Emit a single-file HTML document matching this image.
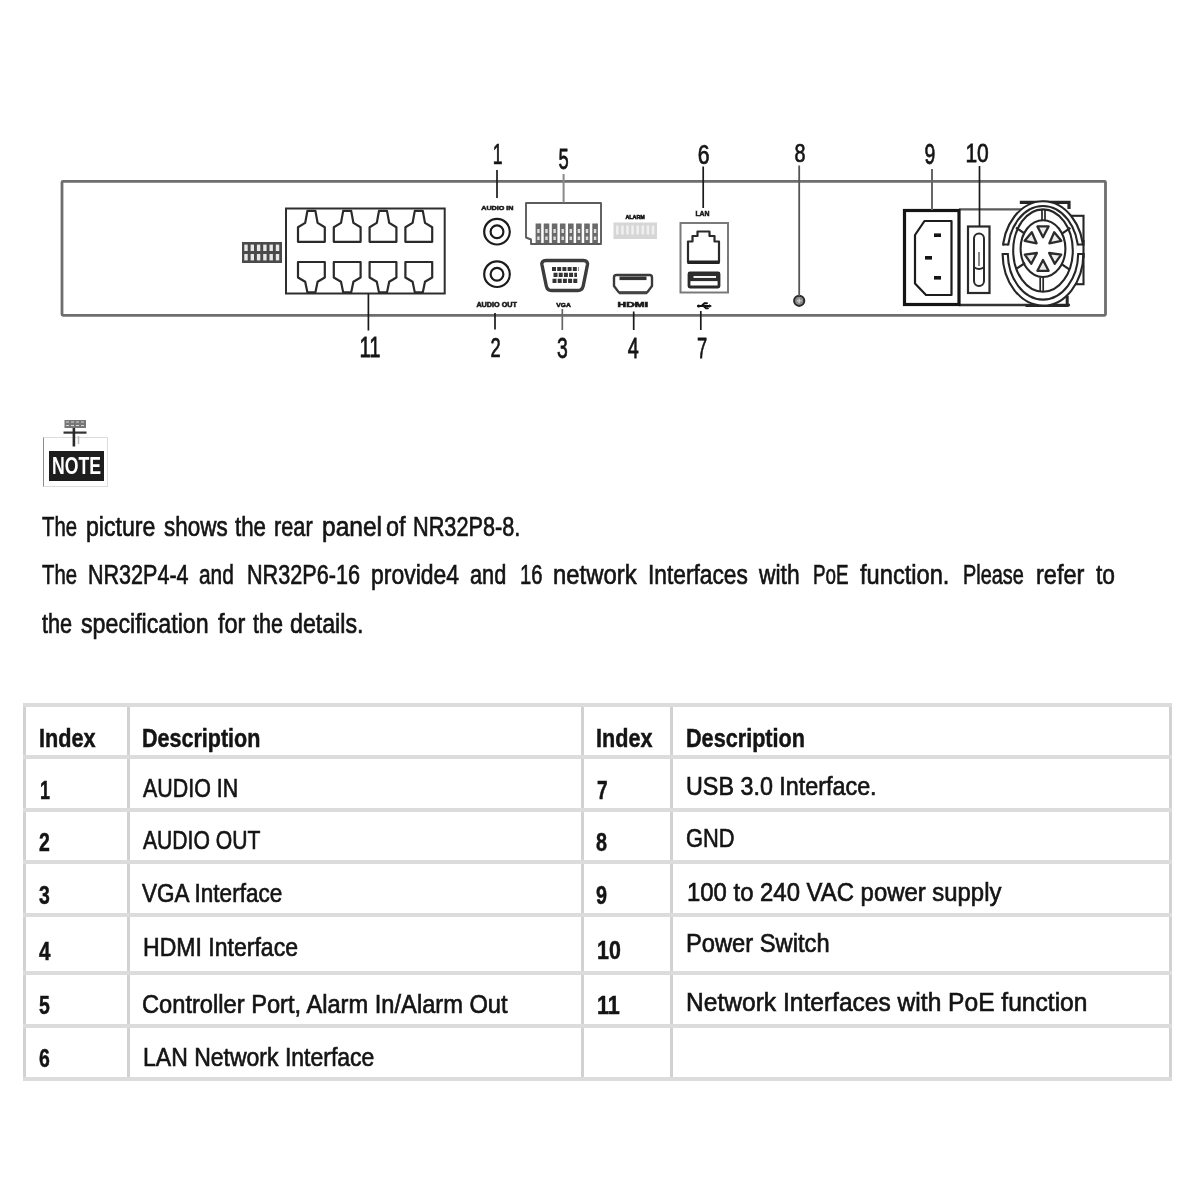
<!DOCTYPE html>
<html lang="en">
<head>
<meta charset="utf-8">
<title>NVR rear panel</title>
<style>
html,body{margin:0;padding:0;background:#fff;}
body{width:1200px;height:1200px;overflow:hidden;}
#page{position:relative;width:1200px;height:1200px;overflow:hidden;background:#fff;
  font-family:"Liberation Sans",sans-serif;color:#141414;filter:grayscale(1);}
svg.diagram{position:absolute;left:0;top:0;width:1200px;height:400px;font-family:"Liberation Sans",sans-serif;}
.t{position:absolute;white-space:nowrap;line-height:1;transform-origin:0 0;display:block;font-weight:400;
  -webkit-text-stroke:0.65px #141414;}
.t.b{font-weight:700;-webkit-text-stroke:0.5px #161616;}
p.para{margin:0;}
.note{position:absolute;left:43px;top:437px;width:64.5px;height:49.5px;border:1.5px solid #dcdcdc;border-left-color:#8d8d8d;box-sizing:border-box;}
.note .blk{position:absolute;left:5.2px;top:13px;width:54.6px;height:29.6px;background:#1d1d1d;}
.notetxt{position:absolute;color:#fff;font-weight:700;white-space:nowrap;line-height:1;transform-origin:0 0;}
.pin{position:absolute;}
table.idx{margin:703.1px 0 0 23.1px;border-collapse:collapse;table-layout:fixed;border-spacing:0;
  width:1146.0px;}
table.idx th,table.idx td{border-style:solid;border-color:#dcdcdc #d2d2d2;border-width:4px 3px;padding:0;}
</style>
</head>
<body>
<div id="page">
<svg class="diagram" viewBox="0 0 1200 400">
<rect x="62" y="181.3" width="1043.5" height="134" rx="1" fill="none" stroke="#6e6e6e" stroke-width="2.8"/>
<g><rect x="242" y="242" width="40" height="21" fill="#4a4a4a"/>
<rect x="244.3" y="244.6" width="3.4" height="6.4" fill="#e8e8e8"/>
<rect x="250.6" y="244.6" width="3.4" height="6.4" fill="#e8e8e8"/>
<rect x="256.9" y="244.6" width="3.4" height="6.4" fill="#e8e8e8"/>
<rect x="263.2" y="244.6" width="3.4" height="6.4" fill="#e8e8e8"/>
<rect x="269.5" y="244.6" width="3.4" height="6.4" fill="#e8e8e8"/>
<rect x="275.8" y="244.6" width="3.4" height="6.4" fill="#e8e8e8"/>
<rect x="244.3" y="254.0" width="3.4" height="6.4" fill="#e8e8e8"/>
<rect x="250.6" y="254.0" width="3.4" height="6.4" fill="#e8e8e8"/>
<rect x="256.9" y="254.0" width="3.4" height="6.4" fill="#e8e8e8"/>
<rect x="263.2" y="254.0" width="3.4" height="6.4" fill="#e8e8e8"/>
<rect x="269.5" y="254.0" width="3.4" height="6.4" fill="#e8e8e8"/>
<rect x="275.8" y="254.0" width="3.4" height="6.4" fill="#e8e8e8"/>
</g>
<rect x="286" y="208.5" width="158.7" height="85" fill="none" stroke="#2e2e2e" stroke-width="2"/>
<polygon points="298.0,241.8 298.0,227.3 305.2,222.9 307.4,210.9 315.4,210.9 317.6,222.9 324.8,227.3 324.8,241.8" fill="none" stroke="#2a2a2a" stroke-width="2.2" stroke-linejoin="round"/>
<polygon points="298.0,262.0 298.0,277.5 305.2,281.8 307.4,292.4 315.4,292.4 317.6,281.8 324.8,277.5 324.8,262.0" fill="none" stroke="#2a2a2a" stroke-width="2.2" stroke-linejoin="round"/>
<polygon points="333.8,241.8 333.8,227.3 341.0,222.9 343.2,210.9 351.2,210.9 353.4,222.9 360.6,227.3 360.6,241.8" fill="none" stroke="#2a2a2a" stroke-width="2.2" stroke-linejoin="round"/>
<polygon points="333.8,262.0 333.8,277.5 341.0,281.8 343.2,292.4 351.2,292.4 353.4,281.8 360.6,277.5 360.6,262.0" fill="none" stroke="#2a2a2a" stroke-width="2.2" stroke-linejoin="round"/>
<polygon points="369.6,241.8 369.6,227.3 376.8,222.9 379.0,210.9 387.0,210.9 389.2,222.9 396.4,227.3 396.4,241.8" fill="none" stroke="#2a2a2a" stroke-width="2.2" stroke-linejoin="round"/>
<polygon points="369.6,262.0 369.6,277.5 376.8,281.8 379.0,292.4 387.0,292.4 389.2,281.8 396.4,277.5 396.4,262.0" fill="none" stroke="#2a2a2a" stroke-width="2.2" stroke-linejoin="round"/>
<polygon points="405.4,241.8 405.4,227.3 412.6,222.9 414.8,210.9 422.8,210.9 425.0,222.9 432.2,227.3 432.2,241.8" fill="none" stroke="#2a2a2a" stroke-width="2.2" stroke-linejoin="round"/>
<polygon points="405.4,262.0 405.4,277.5 412.6,281.8 414.8,292.4 422.8,292.4 425.0,281.8 432.2,277.5 432.2,262.0" fill="none" stroke="#2a2a2a" stroke-width="2.2" stroke-linejoin="round"/>
<circle cx="497" cy="231.7" r="12.8" fill="#fff" stroke="#1c1c1c" stroke-width="2.2"/>
<circle cx="497" cy="231.7" r="6.4" fill="#fff" stroke="#1c1c1c" stroke-width="2.2"/>
<circle cx="497" cy="274.2" r="12.8" fill="#fff" stroke="#1c1c1c" stroke-width="2.2"/>
<circle cx="497" cy="274.2" r="6.4" fill="#fff" stroke="#1c1c1c" stroke-width="2.2"/>
<path d="M526 203 H601 V244 H531 V239.5 L526 237.5 Z" fill="#fff" stroke="#5c5c5c" stroke-width="1.9" stroke-linejoin="round"/>
<rect x="535.6" y="223.5" width="5.6" height="19.5" fill="#6a6a6a"/>
<rect x="537.2" y="229" width="2.4" height="4" fill="#ddd"/>
<rect x="537.2" y="236.5" width="2.4" height="3.5" fill="#ddd"/>
<rect x="543.7" y="223.5" width="5.6" height="19.5" fill="#6a6a6a"/>
<rect x="545.3" y="229" width="2.4" height="4" fill="#ddd"/>
<rect x="545.3" y="236.5" width="2.4" height="3.5" fill="#ddd"/>
<rect x="551.8" y="223.5" width="5.6" height="19.5" fill="#6a6a6a"/>
<rect x="553.4" y="229" width="2.4" height="4" fill="#ddd"/>
<rect x="553.4" y="236.5" width="2.4" height="3.5" fill="#ddd"/>
<rect x="559.9" y="223.5" width="5.6" height="19.5" fill="#6a6a6a"/>
<rect x="561.5" y="229" width="2.4" height="4" fill="#ddd"/>
<rect x="561.5" y="236.5" width="2.4" height="3.5" fill="#ddd"/>
<rect x="568.0" y="223.5" width="5.6" height="19.5" fill="#6a6a6a"/>
<rect x="569.6" y="229" width="2.4" height="4" fill="#ddd"/>
<rect x="569.6" y="236.5" width="2.4" height="3.5" fill="#ddd"/>
<rect x="576.1" y="223.5" width="5.6" height="19.5" fill="#6a6a6a"/>
<rect x="577.7" y="229" width="2.4" height="4" fill="#ddd"/>
<rect x="577.7" y="236.5" width="2.4" height="3.5" fill="#ddd"/>
<rect x="584.2" y="223.5" width="5.6" height="19.5" fill="#6a6a6a"/>
<rect x="585.8" y="229" width="2.4" height="4" fill="#ddd"/>
<rect x="585.8" y="236.5" width="2.4" height="3.5" fill="#ddd"/>
<rect x="592.3" y="223.5" width="5.6" height="19.5" fill="#6a6a6a"/>
<rect x="593.9" y="229" width="2.4" height="4" fill="#ddd"/>
<rect x="593.9" y="236.5" width="2.4" height="3.5" fill="#ddd"/>
<rect x="613.5" y="222.5" width="43.5" height="16.5" fill="#d6d6d6"/>
<rect x="616.0" y="225.5" width="2.6" height="9" fill="#efefef"/>
<rect x="621.1" y="225.5" width="2.6" height="9" fill="#efefef"/>
<rect x="626.2" y="225.5" width="2.6" height="9" fill="#efefef"/>
<rect x="631.3" y="225.5" width="2.6" height="9" fill="#efefef"/>
<rect x="636.4" y="225.5" width="2.6" height="9" fill="#efefef"/>
<rect x="641.5" y="225.5" width="2.6" height="9" fill="#efefef"/>
<rect x="646.6" y="225.5" width="2.6" height="9" fill="#efefef"/>
<rect x="651.7" y="225.5" width="2.6" height="9" fill="#efefef"/>
<path d="M546 260.5 H583.5 Q588 260.5 587.4 265 L583.2 286 Q582.2 290.5 577.8 290.5 H551.6 Q547.2 290.5 546.3 286 L542 265 Q541.2 260.5 546 260.5 Z" fill="#fff" stroke="#3c3c3c" stroke-width="3.4" stroke-linejoin="round"/>
<line x1="552" y1="269.0" x2="578.5" y2="269.0" stroke="#333" stroke-width="4.2" stroke-dasharray="4 1.2"/>
<line x1="553.5" y1="274.9" x2="577" y2="274.9" stroke="#333" stroke-width="4.2" stroke-dasharray="4 1.2"/>
<line x1="552.5" y1="280.8" x2="578" y2="280.8" stroke="#333" stroke-width="4.2" stroke-dasharray="4 1.2"/>
<path d="M616.5 275 H649.5 Q652 275 652 277.5 V286 L647 292.6 H619 L614 286 V277.5 Q614 275 616.5 275 Z" fill="#fff" stroke="#3a3a3a" stroke-width="2.4" stroke-linejoin="round"/>
<rect x="619.5" y="276.5" width="27" height="3.6" fill="#333"/>
<path d="M619 292.8 H647" stroke="#444" stroke-width="3"/>
<rect x="680.5" y="223" width="47.5" height="69.5" fill="#fff" stroke="#7a7a7a" stroke-width="2"/>
<path d="M688 262 V241.5 H692.5 V236 H697.5 V231.5 H709.5 V236 H714.5 V241.5 H719 V262 Z" fill="#fff" stroke="#2a2a2a" stroke-width="2.2" stroke-linejoin="round"/>
<path d="M687.4 262.2 H719.6" stroke="#222" stroke-width="3.4"/>
<rect x="689" y="273" width="30" height="14" rx="1" fill="#fff" stroke="#2a2a2a" stroke-width="2.8"/>
<rect x="689.5" y="273.5" width="29" height="7.6" fill="#2e2e2e"/>
<rect x="693.5" y="276" width="22.5" height="2" fill="#f2f2f2"/>
<g stroke="#111" stroke-width="1.9" fill="none" stroke-linecap="round"><path d="M698 306 H709.5"/><path d="M701.5 306 L704.5 303.3 H707"/><path d="M703.5 306 L706 308.2 H708"/></g>
<circle cx="698.6" cy="306" r="1.5" fill="#111"/><path d="M709 304.3 L712 306 L709 307.7 Z" fill="#111"/>
<circle cx="799.2" cy="300.8" r="5.1" fill="#8a8a8a" stroke="#2a2a2a" stroke-width="2"/>
<path d="M796.8 300.8 H801.6 M799.2 298.4 V303.2" stroke="#ddd" stroke-width="1"/>
<path d="M959 209.3 H1022" stroke="#5a5a5a" stroke-width="2.2"/>
<path d="M959 305 H1070" stroke="#333" stroke-width="2.4"/>
<rect x="904.5" y="210.5" width="54.5" height="94" fill="#fff" stroke="#151515" stroke-width="3.2"/>
<path d="M924.5 221 H951.5 V295 H926 L915 283.5 V235 Z" fill="#fff" stroke="#1c1c1c" stroke-width="2.2" stroke-linejoin="round"/>
<rect x="934" y="233.4" width="7" height="3.6" fill="#151515"/>
<rect x="925" y="256" width="7" height="3.6" fill="#151515"/>
<rect x="934" y="276" width="7" height="3.6" fill="#151515"/>
<rect x="968" y="226.5" width="21.5" height="66.5" fill="#fff" stroke="#2a2a2a" stroke-width="2.2"/>
<rect x="974" y="233.5" width="10" height="52.5" rx="5" fill="#fff" stroke="#2a2a2a" stroke-width="2"/>
<path d="M974.5 267.5 Q979 270.5 983.5 267.5" stroke="#2a2a2a" stroke-width="1.8" fill="none"/>
<path d="M979 252 V266" stroke="#555" stroke-width="1.4"/>
<g fill="none" stroke="#262626" stroke-width="2.1">
<rect x="1069.5" y="215.8" width="14" height="68.4" fill="#fff"/>
<path d="M1019.8 202.4 H1069 V209" stroke-width="3.2"/>
<path d="M1025.5 305.4 H1067.2 V296" stroke-width="3"/>
<ellipse cx="1043" cy="253.4" rx="40.4" ry="52.2" fill="#fff"/>
<ellipse cx="1043" cy="252.8" rx="35.2" ry="46.8"/>
<ellipse cx="1043" cy="250.6" rx="29.8" ry="41.2"/>
<ellipse cx="1043" cy="248.6" rx="22.4" ry="28.4"/>
</g>
<path d="M1000.5 249.3 H1010" stroke="#fff" stroke-width="7.6"/>
<path d="M1076.4 249.3 H1085" stroke="#fff" stroke-width="7.6"/>
<path d="M1002.8 244.6 H1008.2 M1002.8 254 H1008.2" stroke="#262626" stroke-width="2" fill="none"/>
<path d="M1077.8 244.6 H1083.4 M1077.8 254 H1083.4" stroke="#262626" stroke-width="2" fill="none"/>
<path d="M1083.5 240 V258" stroke="#262626" stroke-width="2.1" fill="none"/>
<g stroke="#262626" stroke-width="1.7" fill="none">
<path d="M1042 209.6 V220.4 M1045 209.6 V220.4"/>
<path d="M1040.2 277.2 V291.4 M1043.2 277.2 V291.4"/>
<path d="M1016 227.6 L1024.8 233.6 M1070.4 227.8 L1061.6 233.8 M1017 268.4 L1025 263 M1069.6 269.6 L1062 264.4" stroke-width="2.2"/>
</g>
<polygon points="1043.0,237.2 1037.4,226.4 1048.6,226.4" fill="#ececec" stroke="#2b2b2b" stroke-width="2.3" stroke-linejoin="round"/>
<polygon points="1049.4,243.3 1054.2,232.2 1061.3,240.8" fill="#ececec" stroke="#2b2b2b" stroke-width="2.3" stroke-linejoin="round"/>
<polygon points="1049.1,253.0 1061.2,254.7 1054.7,263.8" fill="#ececec" stroke="#2b2b2b" stroke-width="2.3" stroke-linejoin="round"/>
<polygon points="1043.0,260.0 1048.6,270.8 1037.4,270.8" fill="#ececec" stroke="#2b2b2b" stroke-width="2.3" stroke-linejoin="round"/>
<polygon points="1036.9,253.0 1031.3,263.8 1024.8,254.7" fill="#ececec" stroke="#2b2b2b" stroke-width="2.3" stroke-linejoin="round"/>
<polygon points="1036.6,243.3 1024.7,240.8 1031.8,232.2" fill="#ececec" stroke="#2b2b2b" stroke-width="2.3" stroke-linejoin="round"/>
<line x1="497" y1="170" x2="497" y2="198" stroke="#1a1a1a" stroke-width="1.7"/>
<line x1="563.6" y1="174" x2="563.6" y2="202.5" stroke="#8a8a8a" stroke-width="2"/>
<line x1="703.2" y1="166.5" x2="703.2" y2="208" stroke="#1a1a1a" stroke-width="1.7"/>
<line x1="799.2" y1="165.5" x2="799.2" y2="296" stroke="#555" stroke-width="1.8"/>
<line x1="932" y1="169" x2="932" y2="210" stroke="#666" stroke-width="2"/>
<line x1="979.5" y1="166" x2="979.5" y2="226" stroke="#1a1a1a" stroke-width="1.7"/>
<line x1="368.4" y1="294" x2="368.4" y2="330.5" stroke="#1a1a1a" stroke-width="1.7"/>
<line x1="495" y1="313" x2="495" y2="329.5" stroke="#1a1a1a" stroke-width="1.7"/>
<line x1="562.3" y1="309" x2="562.3" y2="330" stroke="#666" stroke-width="1.7"/>
<line x1="633.7" y1="311.5" x2="633.7" y2="330" stroke="#1a1a1a" stroke-width="1.7"/>
<line x1="700.8" y1="311" x2="700.8" y2="330" stroke="#1a1a1a" stroke-width="1.7"/>
<text transform="translate(492.80 164.40) scale(0.6156 1)" font-size="28.63" fill="#151515" stroke="#151515" stroke-width="0.75">1</text>
<text transform="translate(558.40 169.11) scale(0.6308 1)" font-size="29.08" fill="#151515" stroke="#151515" stroke-width="0.75">5</text>
<text transform="translate(697.80 164.12) scale(0.7706 1)" font-size="27.54" fill="#151515" stroke="#151515" stroke-width="0.75">6</text>
<text transform="translate(794.40 161.93) scale(0.7411 1)" font-size="26.69" fill="#151515" stroke="#151515" stroke-width="0.75">8</text>
<text transform="translate(924.60 164.11) scale(0.6775 1)" font-size="28.67" fill="#151515" stroke="#151515" stroke-width="0.75">9</text>
<text transform="translate(965.40 161.74) scale(0.7967 1)" font-size="26.41" fill="#151515" stroke="#151515" stroke-width="0.75">10</text>
<text transform="translate(359.60 357.20) scale(0.7066 1)" font-size="28.63" fill="#151515" stroke="#151515" stroke-width="0.75">11</text>
<text transform="translate(490.40 357.20) scale(0.6500 1)" font-size="28.22" fill="#151515" stroke="#151515" stroke-width="0.75">2</text>
<text transform="translate(557.00 357.71) scale(0.6709 1)" font-size="28.95" fill="#151515" stroke="#151515" stroke-width="0.75">3</text>
<text transform="translate(627.80 357.80) scale(0.6705 1)" font-size="29.51" fill="#151515" stroke="#151515" stroke-width="0.75">4</text>
<text transform="translate(697.00 357.80) scale(0.6218 1)" font-size="29.51" fill="#151515" stroke="#151515" stroke-width="0.75">7</text>
<text transform="translate(481.20 209.74) scale(1.1585 1)" font-size="6.21" font-weight="700" fill="#1a1a1a" stroke="#1a1a1a" stroke-width="0.55">AUDIO IN</text>
<text transform="translate(476.40 307.34) scale(1.1137 1)" font-size="6.50" font-weight="700" fill="#1a1a1a" stroke="#1a1a1a" stroke-width="0.55">AUDIO OUT</text>
<text transform="translate(556.20 307.34) scale(1.0841 1)" font-size="6.21" font-weight="700" fill="#1a1a1a" stroke="#1a1a1a" stroke-width="0.55">VGA</text>
<text transform="translate(617.60 307.40) scale(1.7796 1)" font-size="6.69" font-weight="700" fill="#1a1a1a" stroke="#1a1a1a" stroke-width="0.55">HDMI</text>
<text transform="translate(695.40 216.40) scale(0.9508 1)" font-size="7.27" font-weight="700" fill="#1a1a1a" stroke="#1a1a1a" stroke-width="0.55">LAN</text>
<text transform="translate(625.40 219.20) scale(1.0874 1)" font-size="4.94" font-weight="700" fill="#1a1a1a" stroke="#1a1a1a" stroke-width="0.55">ALARM</text>
</svg>
<div class="note"><div class="blk"></div></div>
<span class="notetxt" style="left:51.80px;top:454.64px;font-size:23.11px;transform:scaleX(0.7632)">NOTE</span>
<svg class="pin" style="left:60px;top:416px" width="32" height="34" viewBox="60 416 32 34">
<rect x="64.5" y="420" width="21.5" height="8" fill="#777"/>
<path d="M66 422 H85 M66 425.5 H85" stroke="#d8d8d8" stroke-width="1.1" stroke-dasharray="3 2"/>
<path d="M63.5 432.6 H86.5" stroke="#333" stroke-width="2.2"/>
<path d="M73.9 428 V446.5" stroke="#2a2a2a" stroke-width="2.6"/>
<path d="M78.5 436 V444" stroke="#bbb" stroke-width="1.5"/>
</svg>
<p class="para"><span class="t" style="left:42.40px;top:514.10px;font-size:27px;transform:scaleX(0.7523);">The</span> <span class="t" style="left:85.60px;top:514.10px;font-size:27px;transform:scaleX(0.8565);">picture</span> <span class="t" style="left:163.80px;top:514.10px;font-size:27px;transform:scaleX(0.8312);">shows</span> <span class="t" style="left:235.00px;top:514.10px;font-size:27px;transform:scaleX(0.8260);">the</span> <span class="t" style="left:273.80px;top:514.10px;font-size:27px;transform:scaleX(0.8041);">rear</span> <span class="t" style="left:322.40px;top:514.10px;font-size:27px;transform:scaleX(0.9081);">panel</span> <span class="t" style="left:386.40px;top:514.10px;font-size:27px;transform:scaleX(0.8683);">of</span> <span class="t" style="left:412.60px;top:514.10px;font-size:27px;transform:scaleX(0.8041);">NR32P8-8.</span></p><p class="para"><span class="t" style="left:42.40px;top:562.30px;font-size:27px;transform:scaleX(0.7523);">The</span> <span class="t" style="left:88.00px;top:562.30px;font-size:27px;transform:scaleX(0.7980);">NR32P4-4</span> <span class="t" style="left:198.80px;top:562.30px;font-size:27px;transform:scaleX(0.7727);">and</span> <span class="t" style="left:247.00px;top:562.30px;font-size:27px;transform:scaleX(0.8010);">NR32P6-16</span> <span class="t" style="left:370.60px;top:562.30px;font-size:27px;transform:scaleX(0.8497);">provide4</span> <span class="t" style="left:470.00px;top:562.30px;font-size:27px;transform:scaleX(0.8038);">and</span> <span class="t" style="left:519.60px;top:562.30px;font-size:27px;transform:scaleX(0.7461);">16</span> <span class="t" style="left:552.60px;top:562.30px;font-size:27px;transform:scaleX(0.8839);">network</span> <span class="t" style="left:647.60px;top:562.30px;font-size:27px;transform:scaleX(0.8418);">Interfaces</span> <span class="t" style="left:759.45px;top:562.30px;font-size:27px;transform:scaleX(0.8448);">with</span> <span class="t" style="left:813.00px;top:562.30px;font-size:27px;transform:scaleX(0.6976);">PoE</span> <span class="t" style="left:860.00px;top:562.30px;font-size:27px;transform:scaleX(0.8760);">function.</span> <span class="t" style="left:962.60px;top:562.30px;font-size:27px;transform:scaleX(0.7364);">Please</span> <span class="t" style="left:1036.00px;top:562.30px;font-size:27px;transform:scaleX(0.8719);">refer</span> <span class="t" style="left:1096.00px;top:562.30px;font-size:27px;transform:scaleX(0.8438);">to</span></p><p class="para"><span class="t" style="left:42.40px;top:610.90px;font-size:27px;transform:scaleX(0.8047);">the</span> <span class="t" style="left:81.00px;top:610.90px;font-size:27px;transform:scaleX(0.8588);">specification</span> <span class="t" style="left:217.60px;top:610.90px;font-size:27px;transform:scaleX(0.8696);">for</span> <span class="t" style="left:252.60px;top:610.90px;font-size:27px;transform:scaleX(0.7994);">the</span> <span class="t" style="left:290.40px;top:610.90px;font-size:27px;transform:scaleX(0.8581);">details.</span></p>
<table class="idx"><colgroup><col style="width:103.6px"><col style="width:454.2px"><col style="width:89.0px"><col style="width:499.2px"></colgroup>
<tr style="height:52.4px">
<th><span class="t b" style="left:38.80px;top:724.52px;font-size:26px;transform:scaleX(0.8334);">Index</span></th>
<th><span class="t b" style="left:142.00px;top:724.52px;font-size:26px;transform:scaleX(0.8278);">Description</span></th>
<th><span class="t b" style="left:596.20px;top:724.52px;font-size:26px;transform:scaleX(0.8305);">Index</span></th>
<th><span class="t b" style="left:686.00px;top:724.52px;font-size:26px;transform:scaleX(0.8320);">Description</span></th>
</tr>
<tr style="height:52.6px">
<td><span class="t b" style="left:39.60px;top:777.32px;font-size:26px;transform:scaleX(0.6918);">1</span></td>
<td><span class="t" style="left:142.60px;top:775.12px;font-size:26px;transform:scaleX(0.8237);">AUDIO IN</span></td>
<td><span class="t b" style="left:596.60px;top:777.32px;font-size:26px;transform:scaleX(0.7333);">7</span></td>
<td><span class="t" style="left:686.40px;top:772.52px;font-size:26px;transform:scaleX(0.8972);">USB 3.0 Interface.</span></td>
</tr>
<tr style="height:52.4px">
<td><span class="t b" style="left:39.20px;top:829.32px;font-size:26px;transform:scaleX(0.7471);">2</span></td>
<td><span class="t" style="left:142.60px;top:827.32px;font-size:26px;transform:scaleX(0.8127);">AUDIO OUT</span></td>
<td><span class="t b" style="left:596.40px;top:828.92px;font-size:26px;transform:scaleX(0.7609);">8</span></td>
<td><span class="t" style="left:686.40px;top:824.92px;font-size:26px;transform:scaleX(0.8412);">GND</span></td>
</tr>
<tr style="height:52.6px">
<td><span class="t b" style="left:39.20px;top:882.32px;font-size:26px;transform:scaleX(0.7471);">3</span></td>
<td><span class="t" style="left:142.40px;top:879.72px;font-size:26px;transform:scaleX(0.8661);">VGA Interface</span></td>
<td><span class="t b" style="left:596.40px;top:882.32px;font-size:26px;transform:scaleX(0.7609);">9</span></td>
<td><span class="t" style="left:686.60px;top:878.72px;font-size:26px;transform:scaleX(0.9191);">100 to 240 VAC power supply</span></td>
</tr>
<tr style="height:58.0px">
<td><span class="t b" style="left:38.80px;top:938.32px;font-size:26px;transform:scaleX(0.7886);">4</span></td>
<td><span class="t" style="left:142.60px;top:933.52px;font-size:26px;transform:scaleX(0.8866);">HDMI Interface</span></td>
<td><span class="t b" style="left:597.20px;top:937.32px;font-size:26px;transform:scaleX(0.8232);">10</span></td>
<td><span class="t" style="left:686.40px;top:929.72px;font-size:26px;transform:scaleX(0.9117);">Power Switch</span></td>
</tr>
<tr style="height:52.6px">
<td><span class="t b" style="left:39.20px;top:992.32px;font-size:26px;transform:scaleX(0.7471);">5</span></td>
<td><span class="t" style="left:142.00px;top:991.12px;font-size:26px;transform:scaleX(0.9102);">Controller Port, Alarm In/Alarm Out</span></td>
<td><span class="t b" style="left:597.20px;top:992.32px;font-size:26px;transform:scaleX(0.8296);">11</span></td>
<td><span class="t" style="left:686.40px;top:988.72px;font-size:26px;transform:scaleX(0.9448);">Network Interfaces with PoE function</span></td>
</tr>
<tr style="height:53.4px">
<td><span class="t b" style="left:39.20px;top:1044.72px;font-size:26px;transform:scaleX(0.7471);">6</span></td>
<td><span class="t" style="left:142.60px;top:1043.52px;font-size:26px;transform:scaleX(0.8847);">LAN Network Interface</span></td>
<td></td>
<td></td>
</tr>
</table>
</div>
</body>
</html>
